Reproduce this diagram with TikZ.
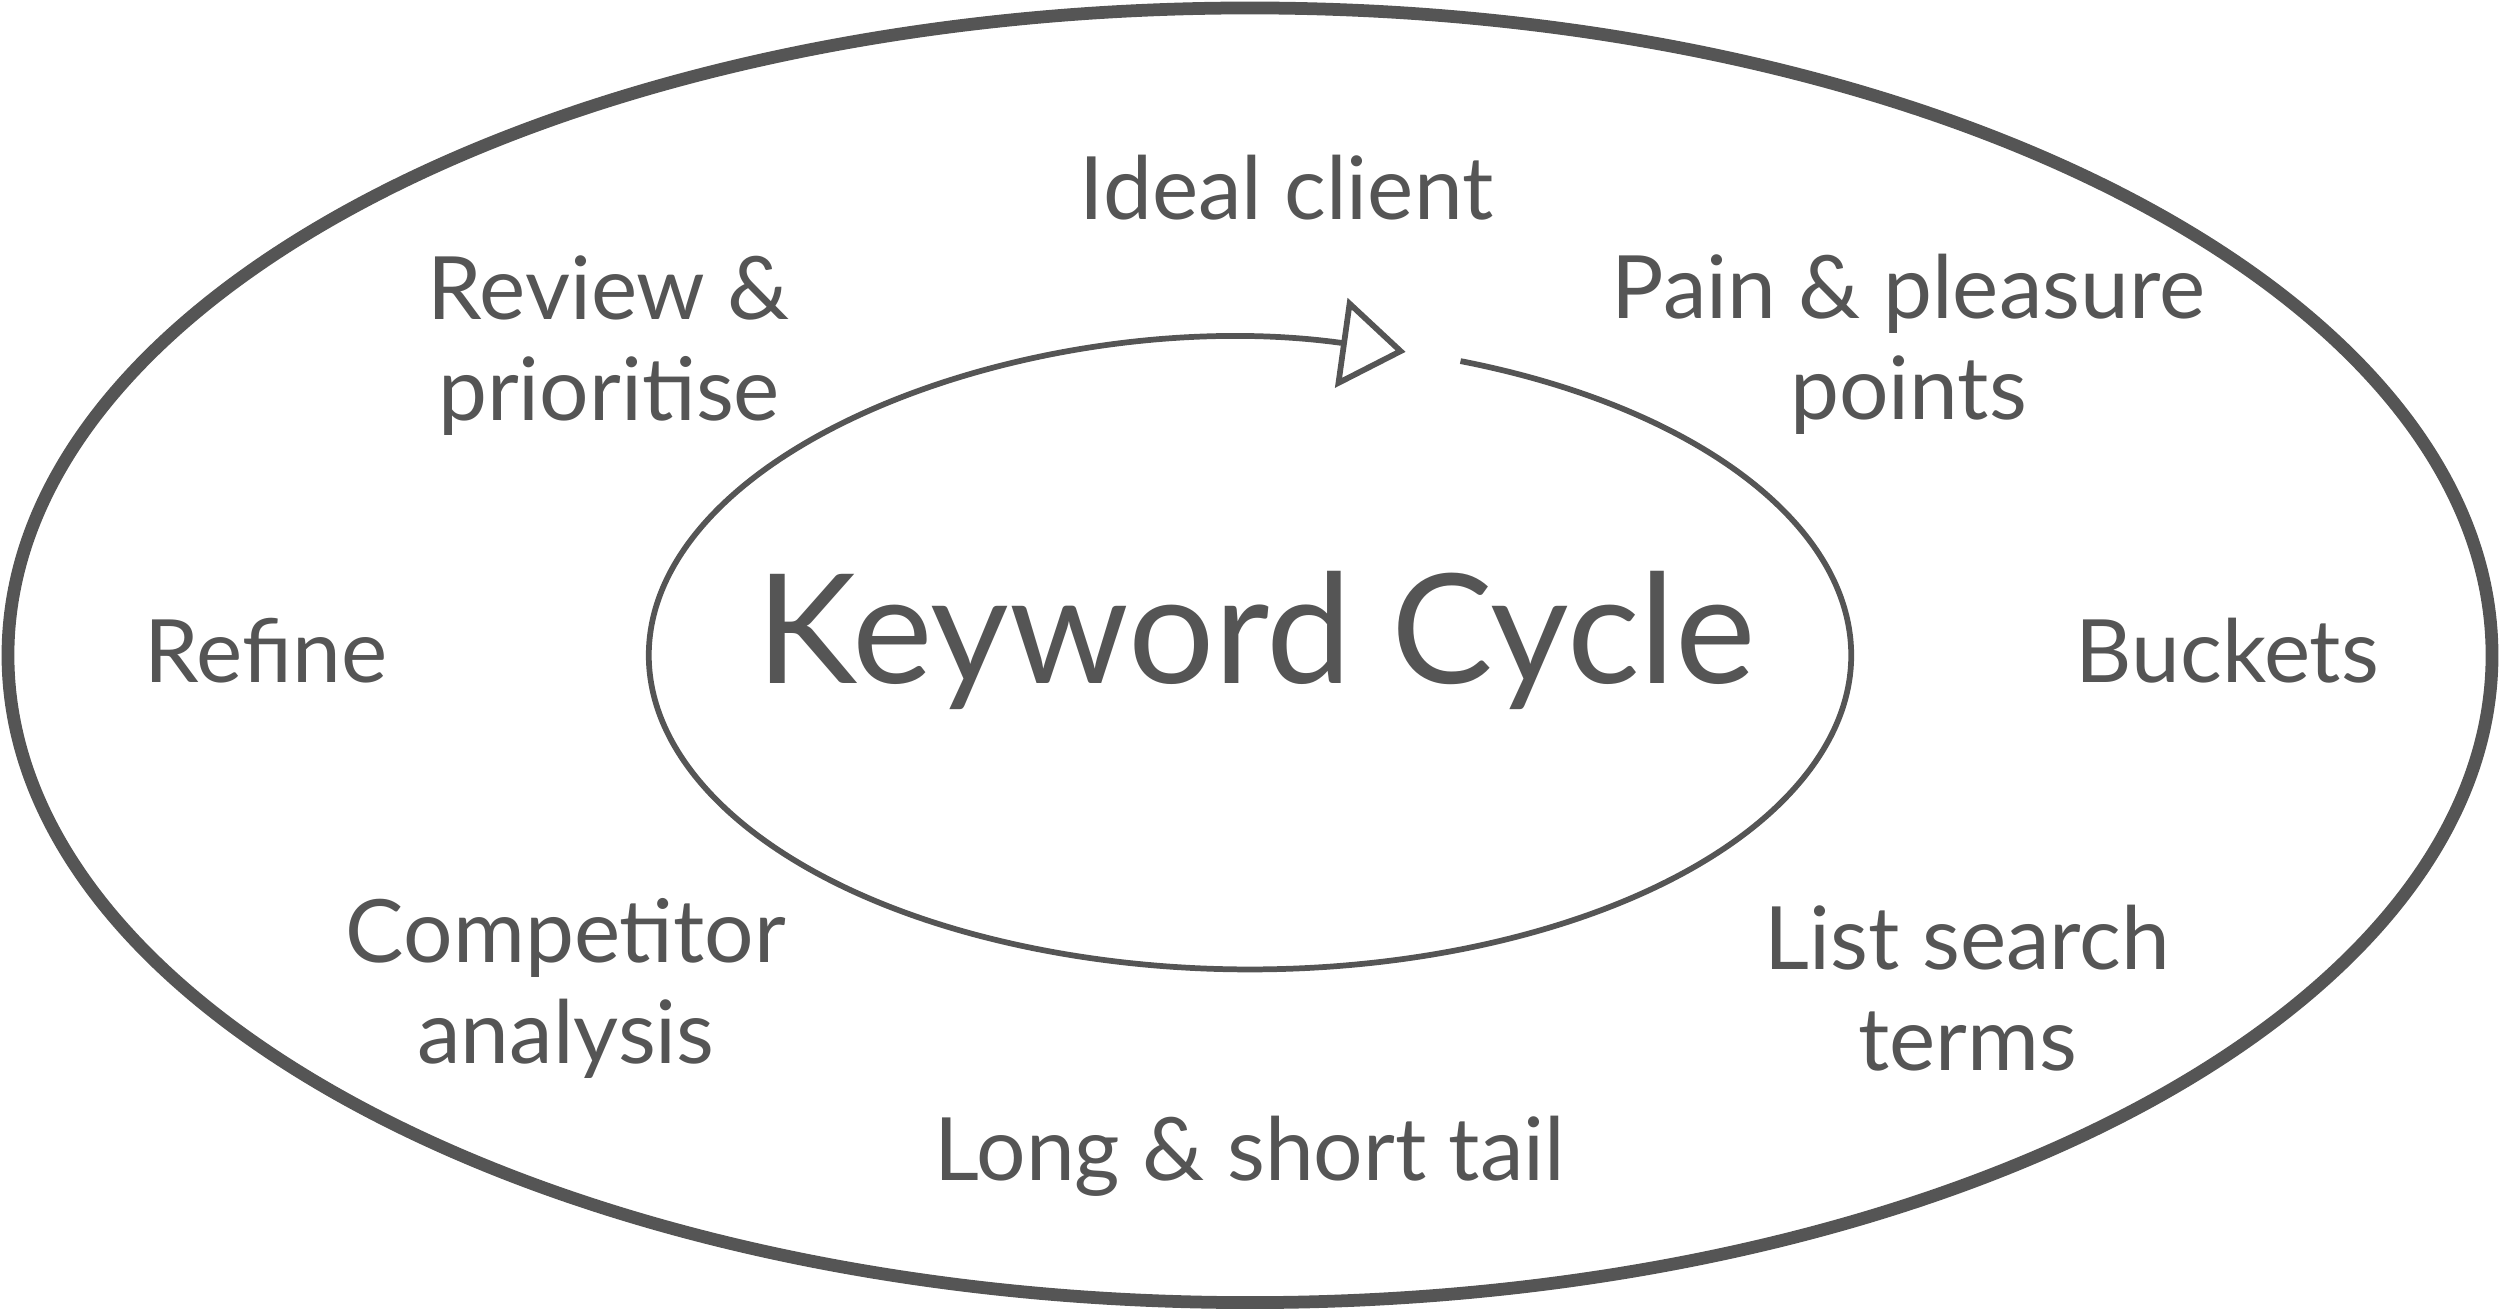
\documentclass[tikz,border=0pt]{standalone}
\usepackage{fontspec}
\setmainfont{Lato}
\usetikzlibrary{arrows.meta}
\definecolor{ink}{HTML}{555555}
\begin{document}
\begin{tikzpicture}[x=0.5mm,y=0.5mm,
  lbl/.style={text=ink,align=center,font=\fontsize{78}{90}\selectfont},
  title/.style={text=ink,font=\fontsize{136}{140}\selectfont}]
\useasboundingbox (0,0) rectangle (1568,823);
\draw[ink,line width=4mm] (784,412) ellipse [x radius=779, y radius=406];
\draw[ink,line width=1.8mm,-{Triangle[open,length=58pt,width=80pt]}]
  (784,412) ++(429.5:377 and 197) arc[start angle=429.5,end angle=75,x radius=377,y radius=197];
\node[title] (kc) at (788,421) {Keyword Cycle};
\node[lbl] (a) at (807,705) {Ideal client};
\node[lbl] (b) at (1197,607) {Pain \& pleasure\\points};
\node[lbl] (c) at (1397,415) {Buckets};
\node[lbl] (d) at (1234,203) {List search\\terms};
\node[lbl] (e) at (784,98) {Long \& short tail};
\node[lbl] (f) at (355,203) {Competitor\\analysis};
\node[lbl] (g) at (167,415) {Refine};
\node[lbl] (h) at (382,606) {Review \&\\prioritise};
\end{tikzpicture}
\end{document}
